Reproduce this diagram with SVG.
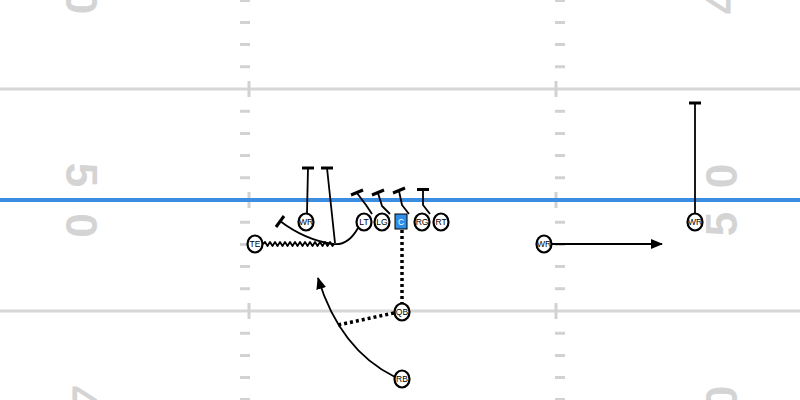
<svg xmlns="http://www.w3.org/2000/svg" width="800" height="400" viewBox="0 0 800 400">
<defs>
<style>
.yard{stroke:#d7d7d7;stroke-width:3;fill:none}
.hash{stroke:#d2d2d2;stroke-width:3;fill:none}
.los{stroke:#3b8de2;stroke-width:4;fill:none}
.num{font-family:"Liberation Sans",Arial,sans-serif;font-weight:bold;font-size:44px;fill:#d4d4d4;text-anchor:middle}
.p{fill:#fff;stroke:#000;stroke-width:2.2}
.lbl{font-family:"Liberation Sans",Arial,sans-serif;font-size:8.5px;fill:#000;text-anchor:middle;dominant-baseline:central}
.rt{fill:none;stroke:#000;stroke-width:1.8;stroke-linejoin:round}
.cap{fill:none;stroke:#000;stroke-width:3}
.dot{fill:none;stroke:#000;stroke-width:3.5;stroke-dasharray:3,3}
</style>
<marker id="ah" markerUnits="userSpaceOnUse" markerWidth="12" markerHeight="10" refX="11" refY="5" orient="auto">
<path d="M0,0 L12,5 L0,10 z" fill="#000"/>
</marker>
</defs>
<rect width="800" height="400" fill="#fff"/>
<g id="field">
<line class="yard" x1="0" y1="89" x2="800" y2="89"/>
<line class="yard" x1="0" y1="311" x2="800" y2="311"/>
<path class="hash" d="M240,0.5h10M240,22.4h10M240,44.6h10M240,66.8h10M240,111.2h10M240,133.4h10M240,155.6h10M240,177.8h10M240,222.2h10M240,244.4h10M240,266.6h10M240,288.8h10M240,333.2h10M240,355.4h10M240,377.6h10M240,399.5h10 M249,81v16M249,192v16M249,303v16"/>
<path class="hash" d="M555,0.5h10M555,22.4h10M555,44.6h10M555,66.8h10M555,111.2h10M555,133.4h10M555,155.6h10M555,177.8h10M555,222.2h10M555,244.4h10M555,266.6h10M555,288.8h10M555,333.2h10M555,355.4h10M555,377.6h10M555,399.5h10 M556,81v16M556,192v16M556,303v16"/>
<text class="num" transform="translate(66,175) rotate(90)">5</text>
<text class="num" transform="translate(66,225.5) rotate(90)">0</text>
<text class="num" transform="translate(66,-47) rotate(90)">4</text>
<text class="num" transform="translate(66,2) rotate(90)">0</text>
<text class="num" transform="translate(66,398) rotate(90)">4</text>
<text class="num" transform="translate(66,448) rotate(90)">0</text>
<text class="num" transform="translate(737,176) rotate(-90)">0</text>
<text class="num" transform="translate(737,224) rotate(-90)">5</text>
<text class="num" transform="translate(737,-47) rotate(-90)">0</text>
<text class="num" transform="translate(737,2) rotate(-90)">4</text>
<text class="num" transform="translate(737,398) rotate(-90)">0</text>
<text class="num" transform="translate(737,447) rotate(-90)">4</text>
<line class="los" x1="0" y1="200" x2="800" y2="200"/>
</g>
<g id="connectors">
<path class="rt" d="M263,244 l2,-2 l2.5,4 l2.5,-4 l2.5,4 l2.5,-4 l2.5,4 l2.5,-4 l2.5,4 l2.5,-4 l2.5,4 l2.5,-4 l2.5,4 l2.5,-4 l2.5,4 l2.5,-4 l2.5,4 l2.5,-4 l2.5,4 l2.5,-4 l2.5,4 l2.5,-4 l2.5,4 l2.5,-4 l2.5,4 l2.5,-4 l2.5,4 l2.5,-4 l2.5,4 l1.5,-2"/>
<path class="rt" d="M335,243 L327,168"/>
<path class="cap" d="M321,168 h12"/>
<path class="rt" d="M307,213 L308,168"/>
<path class="cap" d="M302,168 h12"/>
<path class="rt" d="M358,228 Q348,246 333,244 Q305,240 280,221"/>
<path class="cap" d="M276,227 L284,216"/>
<path class="rt" d="M372,214 L366,205 L357,193"/>
<path class="cap" d="M351,195 L363,190"/>
<path class="rt" d="M390,214 L382,206 L378,193"/>
<path class="cap" d="M372,195 L384,190"/>
<path class="rt" d="M409,214 L402,205 L399,191"/>
<path class="cap" d="M393,193 L405,188"/>
<path class="rt" d="M430,214 L423,205 L423,190"/>
<path class="cap" d="M417,189.5 h12"/>
<path class="dot" d="M402,230 V303"/>
<path class="dot" d="M394,313 L338,325"/>
<path class="rt" d="M395,377 Q340,350 318,278" marker-end="url(#ah)"/>
<path class="rt" d="M552,244 H662" marker-end="url(#ah)"/>
<path class="rt" d="M695,213 V103"/>
<path class="cap" d="M689,103 h12"/>
</g>
<g id="TE"><ellipse class="p" cx="255" cy="244" rx="7.5" ry="8.5"/><text class="lbl" x="255" y="244">TE</text></g>
<g id="WR1"><ellipse class="p" cx="306" cy="222" rx="7.5" ry="8.5"/><text class="lbl" x="306" y="222">WR</text></g>
<g id="LT"><ellipse class="p" cx="364" cy="222" rx="7.5" ry="8.5"/><text class="lbl" x="364" y="222">LT</text></g>
<g id="LG"><ellipse class="p" cx="382" cy="222" rx="7.5" ry="8.5"/><text class="lbl" x="382" y="222">LG</text></g>
<g id="C"><rect x="395" y="214" width="12" height="15" fill="#2f8ee8" stroke="#000" stroke-width="1"/><text class="lbl" x="401" y="221.5" style="fill:#fff">C</text></g>
<g id="RG"><ellipse class="p" cx="422" cy="222" rx="7.5" ry="8.5"/><text class="lbl" x="422" y="222">RG</text></g>
<g id="RT"><ellipse class="p" cx="441" cy="222" rx="7.5" ry="8.5"/><text class="lbl" x="441" y="222">RT</text></g>
<g id="QB"><ellipse class="p" cx="402" cy="312" rx="7.5" ry="8.5"/><text class="lbl" x="402" y="312">QB</text></g>
<g id="RB"><ellipse class="p" cx="402" cy="379" rx="7.5" ry="8.5"/><text class="lbl" x="402" y="379">RB</text></g>
<g id="WR2"><ellipse class="p" cx="544" cy="244" rx="7.5" ry="8.5"/><text class="lbl" x="544" y="244">WR</text></g>
<g id="WR3"><ellipse class="p" cx="695" cy="222" rx="7.5" ry="8.5"/><text class="lbl" x="695" y="222">WR</text></g>
</svg>
